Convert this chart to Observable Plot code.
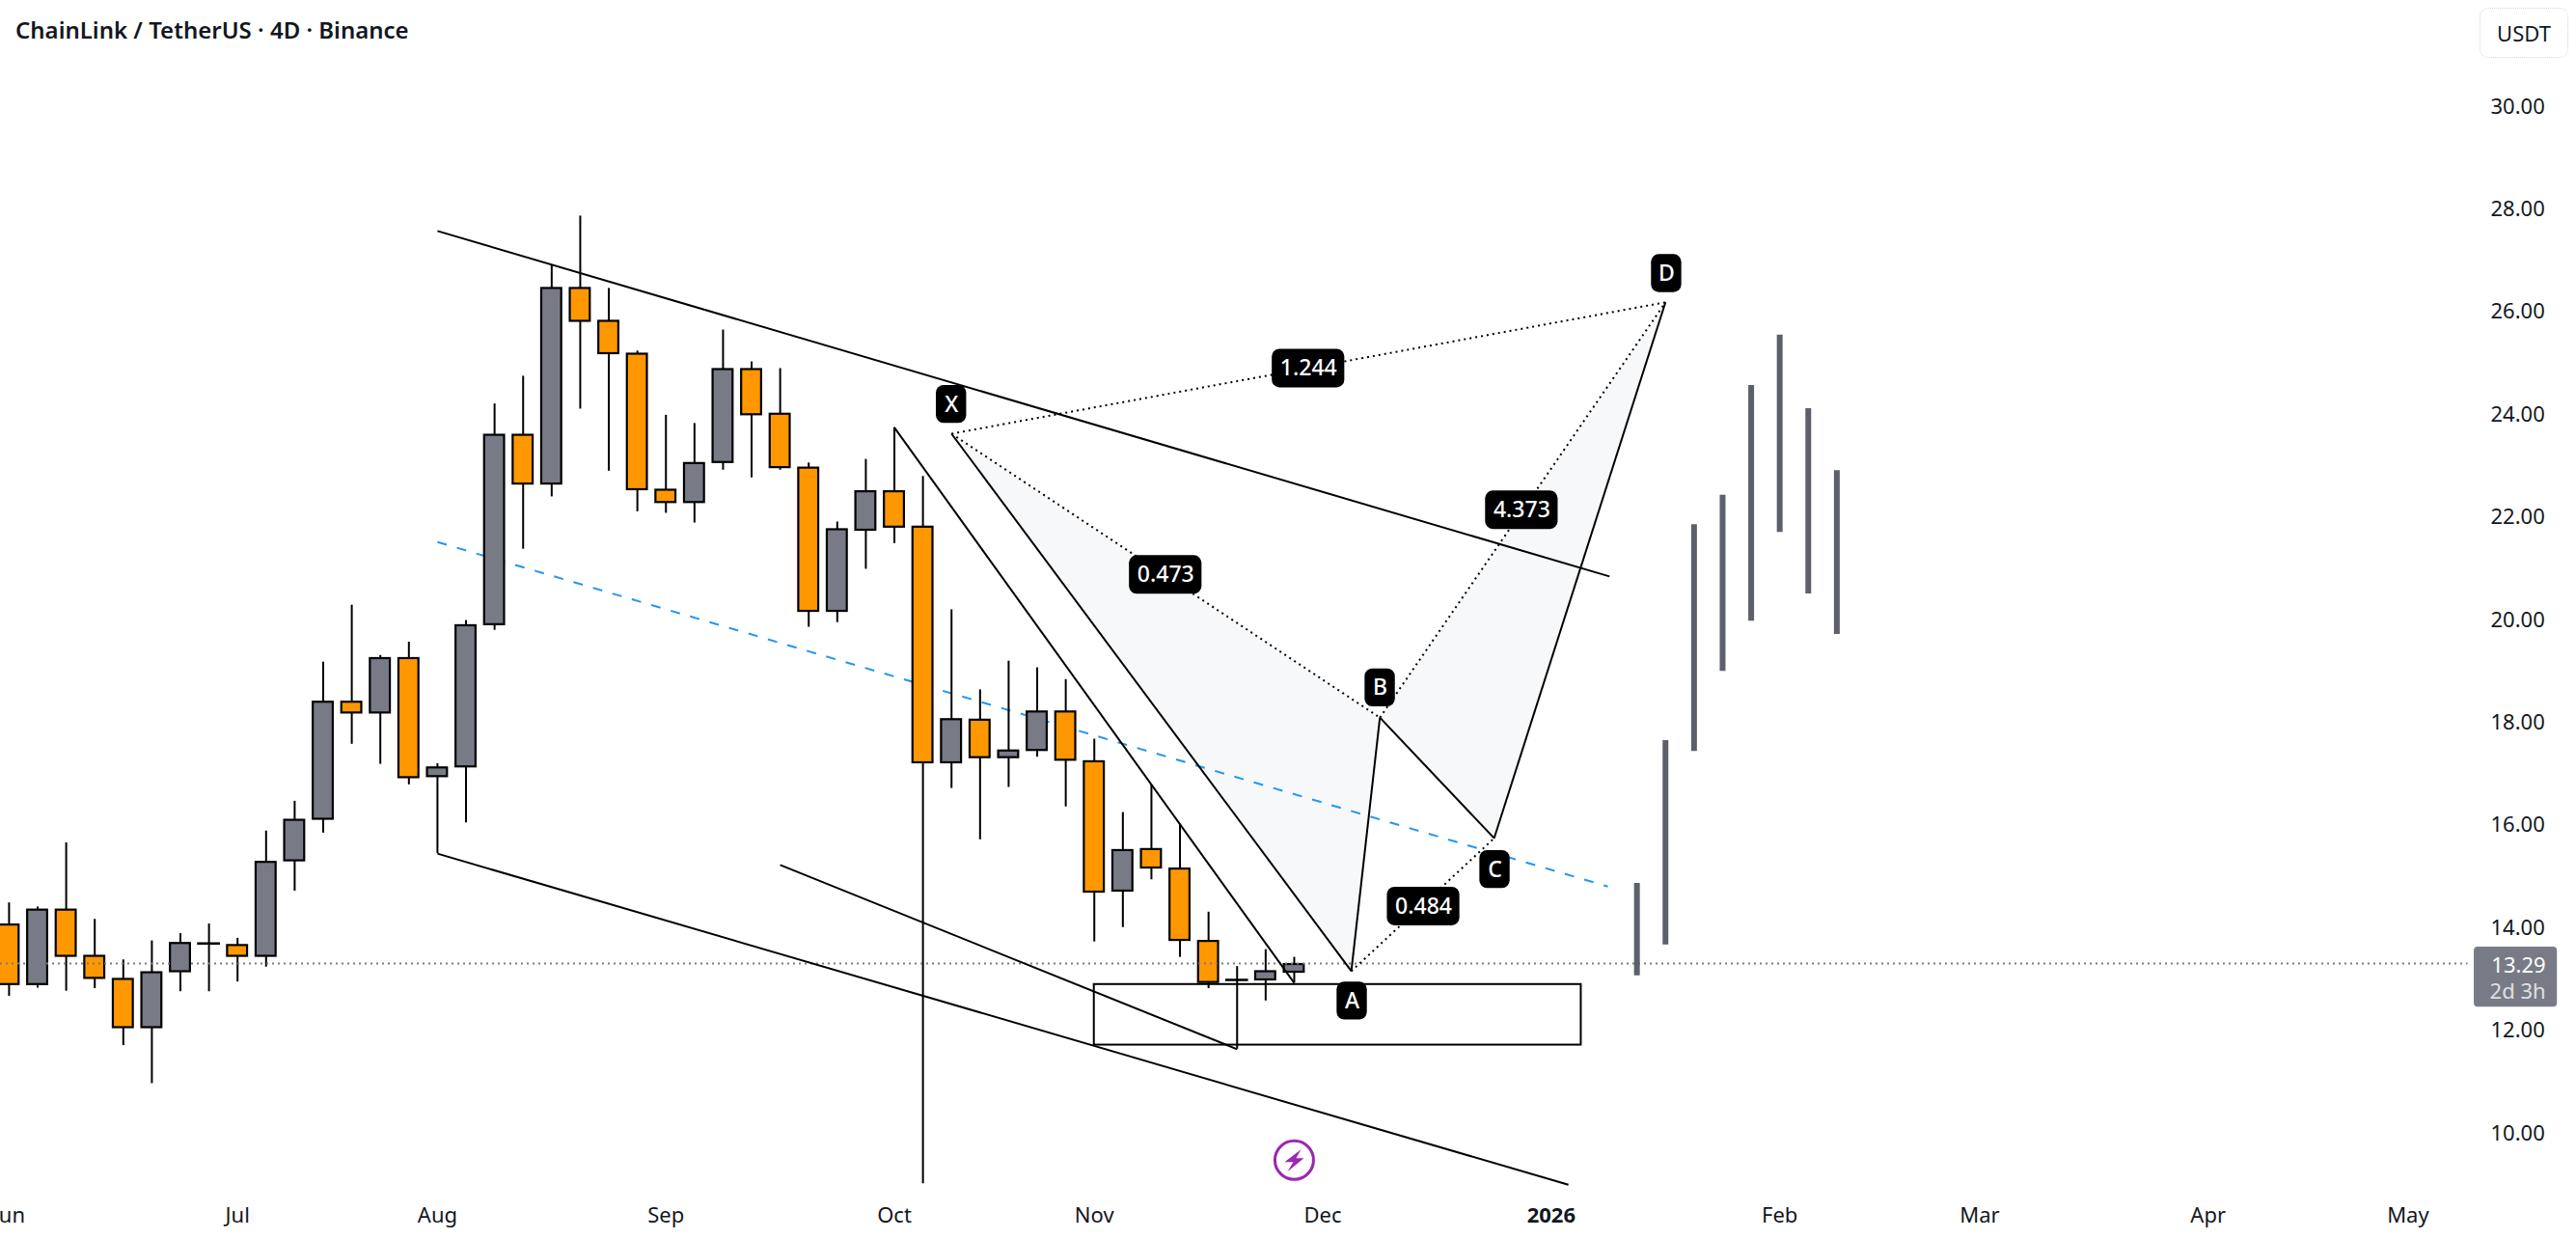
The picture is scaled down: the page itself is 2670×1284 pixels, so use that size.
<!DOCTYPE html>
<html>
<head>
<meta charset="utf-8">
<script src="https://cdn.jsdelivr.net/npm/d3@7"></script>
<script src="https://cdn.jsdelivr.net/npm/@observablehq/plot@0.6"></script>
<style>
html,body{margin:0;padding:0;background:#fff;overflow:hidden;}
#wrap{position:relative;width:2670px;height:1284px;font-family:"Noto Sans",sans-serif;color:#131722;}
#title{position:absolute;left:16px;top:15px;font-size:24px;font-weight:600;color:#131722;white-space:nowrap;line-height:32px;}
#unit{position:absolute;left:2570px;top:8px;width:92px;height:52px;box-sizing:border-box;border:1px dotted #d1d4dc;border-radius:9px;font-size:22px;line-height:50px;text-align:center;color:#131722;}
</style>
</head>
<body>
<div id="wrap">
<div id="chart"></div>
<div id="title">ChainLink / TetherUS · 4D · Binance</div>
<div id="unit">USDT</div>
</div>
<script>
// Candles (price, USDT), one per 4-day bar
const opens  = [14.04,12.88,14.33,13.43,12.98,12.04,13.13,13.68,13.64,13.43,15.29,16.10,18.38,18.17,19.23,16.93,17.12,19.89,23.58,22.63,26.44,25.80,25.16,22.51,22.27,23.05,24.86,23.99,22.94,20.15,21.73,22.48,21.79,17.20,18.03,17.30,17.44,18.19,17.22,14.70,15.51,15.13,13.72,12.97,12.97,13.12];
const closes = [12.88,14.33,13.43,13.00,12.04,13.11,13.68,13.68,13.43,15.26,16.08,18.38,18.17,19.23,16.91,17.10,19.87,23.58,22.63,26.44,25.80,25.17,22.52,22.27,23.03,24.86,23.98,22.95,20.15,21.74,22.48,21.79,17.20,18.04,17.30,17.43,18.19,17.25,14.68,15.49,15.15,13.74,12.92,12.97,13.13,13.27];
const highs  = [14.47,14.39,15.64,14.15,13.36,13.73,13.87,14.06,13.78,15.87,16.45,19.16,20.27,19.29,19.55,17.18,19.97,24.19,24.73,26.90,27.85,26.44,25.22,23.97,23.81,25.63,25.01,24.88,23.04,21.89,23.11,23.73,22.78,20.18,18.62,19.18,19.05,18.82,17.66,16.23,16.77,16.01,14.29,13.23,13.56,13.41];
const lows   = [12.65,12.81,12.75,12.80,11.69,10.95,12.74,12.74,12.93,13.22,14.70,15.83,17.56,17.17,16.77,15.43,16.03,19.78,21.36,22.38,24.09,22.88,22.09,22.06,21.87,22.90,22.75,22.90,19.84,19.93,20.97,21.47,9.00,16.70,15.70,16.72,17.31,16.34,13.71,13.99,14.92,13.41,12.80,11.62,12.56,12.91];

// Projected bars
const forecastIdx  = [57,58,59,60,61,62,63,64];
const forecastLow  = [13.05,13.65,17.42,18.98,19.96,21.69,20.49,19.70];
const forecastHigh = [14.85,17.63,21.84,22.41,24.55,25.53,24.10,22.89];

// Harmonic pattern pivots: bar index, price
const pivotNames  = ["X","A","B","C","D"];
const pivotBars   = [33.0,47.0,48.0,52.0,58.0];
const pivotPrices = [23.61,13.14,18.08,15.73,26.17];
const pivotLabelBars   = [33.0,47.03,48.01,52.03,58.04];
const pivotLabelPrices = [24.18,12.56,18.66,15.12,26.73];

// Fibonacci ratios
const ratioTexts  = ["1.244","0.473","0.484","4.373"];
const ratioBars   = [45.5,40.5,49.53,52.97];
const ratioPrices = [24.88,20.86,14.40,22.12];

// Trend lines: [bar1, price1, bar2, price2]
const trendLines = [
  [15,27.56,56.04,20.83],
  [15,15.43,54.6,8.98],
  [27,15.21,43,11.62],
  [31,23.73,45,12.91]
];
const midLine = [15,21.5,55.98,14.79];
const zone = {bar1:38, bar2:55.05, top:12.88, bottom:11.70};
const lastPrice = 13.29;
const countdown = "2d 3h";

const priceTicks = [10,12,14,16,18,20,22,24,26,28,30];
const monthBars   = [0,8,15,23,31,38,46,62,69,77,84];
const monthNames  = ["Jun","Jul","Aug","Sep","Oct","Nov","Dec","Feb","Mar","Apr","May"];
const yearBars = [54];
const yearNames = ["2026"];

const GREY="#787b86", ORANGE="#ff9800", INK="#000000";
const bars = opens.map((o,i)=>({i,o,c:closes[i],h:highs[i],l:lows[i]}));
const solid = bars.filter(d=>Math.abs(d.o-d.c)>=0.02);
const doji  = bars.filter(d=>Math.abs(d.o-d.c)<0.02);
const pts = pivotNames.map((n,i)=>({n,x:pivotBars[i],y:pivotPrices[i]}));
const [X,A,B,C,D]=pts;
const seg=(a,b)=>({x1:a.x,y1:a.y,x2:b.x,y2:b.y});
const solidLegs=[seg(X,A),seg(A,B),seg(B,C),seg(C,D)];
const dottedLegs=[seg(X,B),seg(A,C),seg(B,D),seg(X,D)];
const forecast=forecastIdx.map((x,i)=>({x,l:forecastLow[i],h:forecastHigh[i]}));
const pivotLabels=pivotNames.map((n,i)=>({t:n,x:pivotLabelBars[i],y:pivotLabelPrices[i],hw:.53,hh:.37}));
const ratioLabels=ratioTexts.map((t,i)=>({t,x:ratioBars[i],y:ratioPrices[i],hw:1.27,hh:.375}));
const allLabels=[...ratioLabels,...pivotLabels];
const boltSymbol={draw(ctx,size){
  const r=Math.sqrt(size/Math.PI)/20;
  const p=[[7,-11],[-10,2],[-1,2],[-7,12],[10,-2],[2,-2]];
  p.forEach(([x,y],k)=>k?ctx.lineTo(x*r,y*r):ctx.moveTo(x*r,y*r));
  ctx.closePath();
}};

const plot = Plot.plot({
  width:2670,height:1284,marginLeft:0,marginTop:0,marginRight:107,marginBottom:57,
  style:{fontFamily:'"Noto Sans",sans-serif',fontSize:"22px",color:"#131722",background:"#fff"},
  x:{type:"linear",domain:[-0.3007,86.284]},
  y:{type:"linear",domain:[8.985,32.05]},
  marks:[
    Plot.axisY({anchor:"right",ticks:priceTicks,tickSize:0,tickPadding:18,dy:1,tickFormat:d=>d.toFixed(2),label:null,fill:"#131722"}),
    Plot.axisX({anchor:"bottom",ticks:monthBars,tickSize:0,tickPadding:24,tickFormat:d=>monthNames[monthBars.indexOf(d)],label:null,fill:"#131722"}),
    Plot.axisX({anchor:"bottom",ticks:yearBars,tickSize:0,tickPadding:24,tickFormat:d=>yearNames[yearBars.indexOf(d)],label:null,fill:"#131722",fontWeight:"bold"}),
    // pattern fill
    Plot.line([X,A,B],{x:"x",y:"y",fill:"#f7f8fa",stroke:"none"}),
    Plot.line([B,C,D],{x:"x",y:"y",fill:"#f7f8fa",stroke:"none"}),
    // mid dashed line
    Plot.link([midLine],{x1:d=>d[0],y1:d=>d[1],x2:d=>d[2],y2:d=>d[3],stroke:"#2196f3",strokeWidth:2,strokeDasharray:"10 11"}),
    // wicks and bodies
    Plot.ruleX(bars,{x:"i",y1:"l",y2:"h",stroke:INK,strokeWidth:2}),
    Plot.rect(solid,{x1:d=>d.i-.35,x2:d=>d.i+.35,y1:"o",y2:"c",fill:d=>d.c>=d.o?GREY:ORANGE,stroke:INK,strokeWidth:2.2}),
    Plot.ruleY(doji,{y:"c",x1:d=>d.i-.4,x2:d=>d.i+.4,stroke:INK,strokeWidth:2.5}),
    // last price
    Plot.ruleY([lastPrice],{x1:-0.3,x2:86.1,stroke:GREY,strokeWidth:2,strokeDasharray:"2 4"}),
    // forecast bars
    Plot.ruleX(forecast,{x:"x",y1:"l",y2:"h",stroke:"#5d606b",strokeWidth:6}),
    // drawings
    Plot.link(trendLines,{x1:d=>d[0],y1:d=>d[1],x2:d=>d[2],y2:d=>d[3],stroke:INK,strokeWidth:2}),
    Plot.rect([zone],{x1:"bar1",x2:"bar2",y1:"bottom",y2:"top",fill:"none",stroke:INK,strokeWidth:2}),
    Plot.link(solidLegs,{x1:"x1",y1:"y1",x2:"x2",y2:"y2",stroke:INK,strokeWidth:2}),
    Plot.link(dottedLegs,{x1:"x1",y1:"y1",x2:"x2",y2:"y2",stroke:INK,strokeWidth:2,strokeDasharray:"2 4"}),
    Plot.rect(allLabels,{x1:d=>d.x-d.hw,x2:d=>d.x+d.hw,y1:d=>d.y-d.hh,y2:d=>d.y+d.hh,fill:INK,rx:8}),
    Plot.text(allLabels,{x:"x",y:"y",text:"t",fill:"#fff",fontSize:23,fontWeight:500}),
    // event marker
    Plot.dot([{x:45,y:9.46}],{x:"x",y:"y",r:20,stroke:"#9c27b0",strokeWidth:3,fill:"none"}),
    Plot.dot([{x:45,y:9.46}],{x:"x",y:"y",r:20,symbol:boltSymbol,fill:"#9c27b0",stroke:"none"}),
    // last price tag
    Plot.rect([{a:86.32,b:89.23,t:13.61,u:12.44}],{x1:"a",x2:"b",y1:"u",y2:"t",fill:GREY,rx:4}),
    Plot.text([{x:88.82,y:13.25,t:lastPrice.toFixed(2)}],{x:"x",y:"y",text:"t",fill:"#fff",textAnchor:"end",fontSize:22}),
    Plot.text([{x:88.82,y:12.73,t:countdown}],{x:"x",y:"y",text:"t",fill:"#e0e0e0",textAnchor:"end",fontSize:22})
  ]
});
document.getElementById("chart").appendChild(plot);
</script>
</body>
</html>
